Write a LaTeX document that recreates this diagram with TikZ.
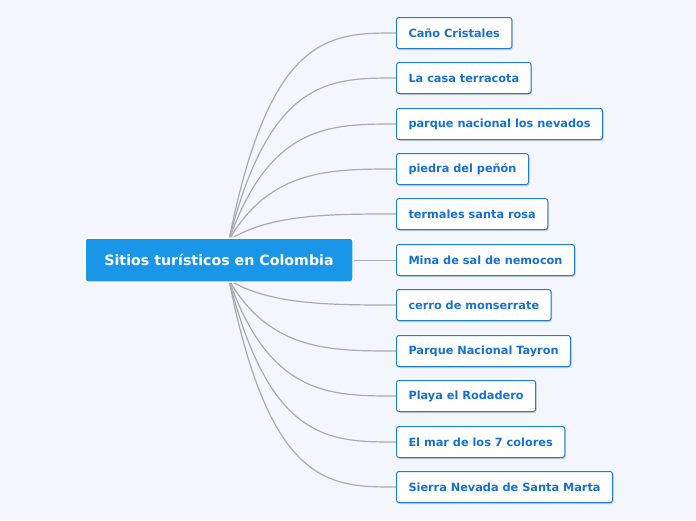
\documentclass[tikz,border=0pt]{standalone}
\usepackage{fontspec}
\setmainfont{DejaVu Sans}
\usetikzlibrary{shadows}
\definecolor{bg}{HTML}{F3F6FD}
\definecolor{mainblue}{HTML}{1A96E8}
\definecolor{childblue}{HTML}{1F7FD6}
\definecolor{txtblue}{HTML}{1670D0}
\definecolor{linegray}{HTML}{A9ABB0}
\tikzset{
  mainbox/.style={draw=white,line width=1.5pt,fill=mainblue,rounded corners=3pt,text=white,font=\bfseries\fontsize{14.2}{16}\selectfont,minimum width=268pt,minimum height=44pt,inner sep=0pt},
  childbox/.style={draw=childblue,line width=1pt,fill=white,rounded corners=2.5pt,text=txtblue,font=\bfseries\fontsize{11.3}{13}\selectfont,minimum height=31pt,inner xsep=12pt,anchor=west,drop shadow={shadow xshift=1pt,shadow yshift=-1.5pt,opacity=0.35}},
  conn/.style={draw=linegray,line width=1.2pt}
}
\begin{document}
\begin{tikzpicture}[x=1pt,y=-1pt]
\fill[bg] (0,0) rectangle (696,520);
\useasboundingbox (0,0) rectangle (696,520);
\coordinate (ot) at (229,240);
\coordinate (ob) at (229,280);
\foreach \n/\y in {1/33,2/78,3/124,4/169,5/214}{
  \coordinate (e\n) at (396,\y);
  \draw[conn] (ot) .. controls (270,\y) and (330,\y) .. (e\n);
}
\foreach \n/\y in {7/305,8/351,9/396,10/442,11/487}{
  \coordinate (e\n) at (396,\y);
  \draw[conn] (ob) .. controls (270,\y) and (330,\y) .. (e\n);
}
\node[mainbox] (c) at (219,260) {Sitios turísticos en Colombia};
\foreach \n/\y/\t in {1/33/Caño Cristales,2/78/La casa terracota,3/124/parque nacional los nevados,4/169/piedra del peñón,5/214/termales santa rosa,6/260/Mina de sal de nemocon,7/305/cerro de monserrate,8/351/Parque Nacional Tayron,9/396/Playa el Rodadero,10/442/El mar de los 7 colores,11/487/Sierra Nevada de Santa Marta}{
  \node[childbox] (k\n) at (396,\y) {\t};
}
\draw[conn,line width=0.8pt] (c.east) -- (k6.west);
\end{tikzpicture}
\end{document}
